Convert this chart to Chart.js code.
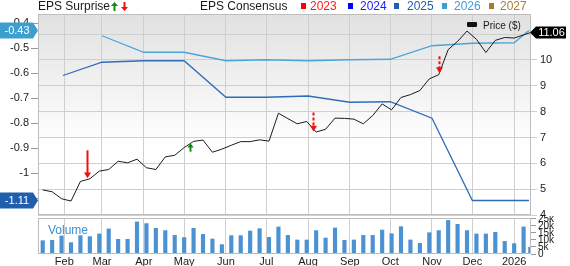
<!DOCTYPE html>
<html><head><meta charset="utf-8">
<script src="https://cdn.jsdelivr.net/npm/chart.js@4.4.1/dist/chart.umd.min.js"></script>
<style>
html,body{margin:0;padding:0;background:#fff;}
body{width:570px;height:266px;position:relative;overflow:hidden;font-family:"Liberation Sans",Arial,sans-serif;}
canvas{position:absolute;left:0;}
#c1{top:0;}
#c2{top:216px;}
.t{position:absolute;font-size:12px;line-height:12px;white-space:nowrap;}
.sq{position:absolute;width:5px;height:6px;top:3px;}
</style></head><body>
<canvas id="c1" width="570" height="216"></canvas>
<canvas id="c2" width="570" height="50"></canvas>

<div class="t" style="left:38px;top:0px;color:#1a1a1a">EPS Surprise</div>
<svg style="position:absolute;left:111px;top:2px" width="18" height="10">
  <polygon points="3.5,0 7,4 4.5,4 4.5,9 2.5,9 2.5,4 0,4" fill="#138a13"/>
  <polygon points="13.5,9 17,5 14.5,5 14.5,0 12.5,0 12.5,5 10,5" fill="#ee1111"/>
</svg>
<div class="t" style="left:200px;top:0px;color:#1a1a1a">EPS Consensus</div>
<div class="sq" style="left:301px;background:#ff0000"></div>
<div class="t" style="left:310px;top:0px;color:#ff1a1a">2023</div>
<div class="sq" style="left:348px;background:#0000ff"></div>
<div class="t" style="left:360px;top:0px;color:#1a1aff">2024</div>
<div class="sq" style="left:394px;background:#1f5fae"></div>
<div class="t" style="left:407px;top:0px;color:#1f5fae">2025</div>
<div class="sq" style="left:442px;background:#3c9fd0"></div>
<div class="t" style="left:454px;top:0px;color:#3c9fd0">2026</div>
<div class="sq" style="left:489px;background:#aa7a2e"></div>
<div class="t" style="left:500px;top:0px;color:#aa7a2e">2027</div>

<div style="position:absolute;left:467px;top:22px;width:10px;height:5px;background:#111;border-radius:1px"></div>
<div class="t" style="left:483px;top:20px;font-size:10px;line-height:11px;color:#1a1a1a">Price ($)</div>
<div class="t" style="left:48px;top:224px;color:#3d8fd1">Volume</div>

<script>
// ---------------- DATA ----------------
// x positions are day numbers counted from 2025-01-01 (day 0)
const xMin = 11.5, xMax = 377.5;
const monthTickDays   = [31, 59, 90, 120, 151, 181, 212, 243, 273, 304, 334, 365];
const monthTickLabels = ['Feb','Mar','Apr','May','Jun','Jul','Aug','Sep','Oct','Nov','Dec','2026'];

// weekly observation days
const weekDays = [15,22,29,36,43,50,57,64,71,78,85,92,99,106,113,120,127,134,141,148,
  155,162,169,176,183,190,197,204,211,218,225,232,239,246,253,260,267,274,281,288,
  295,302,309,316,323,330,337,344,351,358,365,372,377];

// share price ($)
const price = [4.97,4.90,4.63,4.54,5.30,5.40,5.70,5.76,6.08,6.02,
  6.16,5.83,5.76,6.25,6.31,6.61,6.85,6.90,6.43,6.55,
  6.70,6.84,6.84,6.91,6.86,7.94,7.73,7.53,7.62,7.21,
  7.32,7.75,7.74,7.71,7.53,7.85,8.30,8.07,8.55,8.66,
  8.82,9.27,9.43,10.40,10.72,11.12,10.80,10.29,10.76,10.87,
  10.85,10.97,11.06];

// weekly volume (thousands)
const volume = [9.5,9.8,12.9,8.1,13.1,12.4,14.3,17.9,10.5,10.5,
  22.9,21.7,18.3,16.7,13.3,11.7,18.3,14.0,10.7,6.7,
  13.1,13.1,16.4,18.1,11.9,19.3,13.3,10.0,10.0,16.7,
  11.4,18.6,9.8,10.0,13.3,13.3,17.1,14.5,19.5,10.0,
  7.6,15.2,16.7,24.0,21.2,16.7,14.3,14.3,15.5,9.0,
  7.4,19.3,4.8];

// EPS consensus estimates
const eps2025Days = [30,59,90,120,151,181,212,243,273,304,334,376];
const eps2025     = [-0.61,-0.557,-0.551,-0.551,-0.697,-0.697,-0.692,-0.717,-0.715,-0.781,-1.11,-1.11];
const eps2026Days = [59,90,120,151,181,212,243,273,304,334,365,376];
const eps2026     = [-0.451,-0.517,-0.517,-0.551,-0.547,-0.551,-0.547,-0.545,-0.491,-0.481,-0.479,-0.43];

// EPS surprises: day, price level at arrow tip, kind
const surpriseDays  = [48, 124, 216, 309];
const surpriseTip   = [5.42, 6.78, 7.23, 9.49];
const surpriseKind  = ['miss', 'beat', 'missEst', 'missEst'];

// axis ticks
const epsTicks   = [-0.4,-0.5,-0.6,-0.7,-0.8,-0.9,-1.0,-1.1];
const priceTicks = [4,5,6,7,8,9,10,11];
const volTicks   = [0,5,10,15,20,25];

// ---------------- STYLE ----------------
const arrowLen = [28, 8.5, 19, 17];
const FONT = '"Liberation Sans", Arial, sans-serif';
Chart.defaults.font.family = FONT;
Chart.defaults.color = '#1a1a1a';
const GRID = '#cfcfcf';
const TICKC = '#9a9a9a';
const toXY = (xs, ys) => xs.map((x, i) => ({x: x, y: ys[i]}));
const setTicks = arr => s => { s.ticks = arr.map(v => ({value: v})); };
const fitW = w => s => { s.width = w; s.paddingTop = 0; s.paddingBottom = 0; };
const fitH = h => s => { s.height = h; s.paddingLeft = 0; s.paddingRight = 0; };

const bgPlugin = {
  id: 'bg',
  beforeDraw(chart, args, opts) {
    const {ctx, chartArea: a} = chart;
    ctx.save();
    if (opts.gradient) {
      const g = ctx.createLinearGradient(0, a.top, 0, a.bottom);
      g.addColorStop(0, '#e1e1e1');
      g.addColorStop(0.65, '#ffffff');
      ctx.fillStyle = g;
    } else {
      ctx.fillStyle = opts.color || '#fff';
    }
    ctx.fillRect(a.left, a.top, a.right - a.left, a.bottom - a.top);
    ctx.restore();
  },
  afterDraw(chart, args, opts) {
    const {ctx, chartArea: a} = chart;
    ctx.save();
    ctx.strokeStyle = '#bdbdbd';
    ctx.lineWidth = 1;
    ctx.strokeRect(a.left + 0.5, a.top + 0.5, a.right - a.left - 1, a.bottom - a.top - 1);
    ctx.restore();
  }
};

const arrowPlugin = {
  id: 'arrows',
  afterDatasetsDraw(chart) {
    const {ctx, scales} = chart;
    surpriseDays.forEach((d, i) => {
      const px = Math.round(scales.x.getPixelForValue(d)) + 0.5;
      const py = scales.price.getPixelForValue(surpriseTip[i]);
      const kind = surpriseKind[i];
      const len = arrowLen[i];
      ctx.save();
      if (kind === 'beat') {
        ctx.fillStyle = ctx.strokeStyle = '#138a13';
        ctx.lineWidth = 2;
        ctx.beginPath(); ctx.moveTo(px, py + 3.5); ctx.lineTo(px, py + len); ctx.stroke();
        ctx.beginPath(); ctx.moveTo(px, py); ctx.lineTo(px - 3.2, py + 4.2); ctx.lineTo(px + 3.2, py + 4.2); ctx.closePath(); ctx.fill();
      } else {
        ctx.fillStyle = ctx.strokeStyle = '#ee1111';
        ctx.lineWidth = 2;
        if (kind === 'missEst') ctx.setLineDash([3, 2]);
        ctx.beginPath(); ctx.moveTo(px, py - len); ctx.lineTo(px, py - 5); ctx.stroke();
        ctx.setLineDash([]);
        ctx.beginPath(); ctx.moveTo(px, py); ctx.lineTo(px - 3.5, py - 5.8); ctx.lineTo(px + 3.5, py - 5.8); ctx.closePath(); ctx.fill();
      }
      ctx.restore();
    });
  }
};

function drawBadge(ctx, side, tipX, yc, h, color, text) {
  ctx.save();
  ctx.fillStyle = color;
  ctx.beginPath();
  if (side === 'left') {
    ctx.moveTo(0, yc - h / 2);
    ctx.lineTo(tipX - 5, yc - h / 2);
    ctx.lineTo(tipX, yc);
    ctx.lineTo(tipX - 5, yc + h / 2);
    ctx.lineTo(0, yc + h / 2);
  } else {
    ctx.moveTo(tipX, yc);
    ctx.lineTo(tipX + 6, yc - h / 2);
    ctx.lineTo(tipX + 36, yc - h / 2);
    ctx.lineTo(tipX + 36, yc + h / 2);
    ctx.lineTo(tipX + 6, yc + h / 2);
  }
  ctx.closePath();
  ctx.fill();
  ctx.fillStyle = '#ffffff';
  ctx.font = '11px ' + FONT;
  ctx.textBaseline = 'middle';
  ctx.textAlign = 'center';
  const cx = side === 'left' ? (tipX - 5) / 2 + 0.5 : tipX + 21.5;
  ctx.fillText(text, cx, yc + 0.5);
  ctx.restore();
}

const badgePlugin = {
  id: 'badges',
  afterDraw(chart) {
    const {ctx, scales, chartArea: a} = chart;
    const v26 = eps2026[eps2026.length - 1];
    const v25 = eps2025[eps2025.length - 1];
    const vp = price[price.length - 1];
    drawBadge(ctx, 'left', a.left, scales.eps.getPixelForValue(v26), 16, '#3c9fd0', v26.toFixed(2));
    drawBadge(ctx, 'left', a.left, scales.eps.getPixelForValue(v25), 16, '#1f5fae', v25.toFixed(2));
    drawBadge(ctx, 'right', a.right - 1, scales.price.getPixelForValue(vp), 12, '#000000', vp.toFixed(2));
  }
};

// ---------------- PRICE / EPS PANEL ----------------
new Chart(document.getElementById('c1'), {
  type: 'line',
  data: {
    datasets: [
      {label: 'Price', data: toXY(weekDays, price), yAxisID: 'price', borderColor: '#1c1c1c', borderWidth: 1, pointRadius: 0, tension: 0},
      {label: '2026', data: toXY(eps2026Days, eps2026), yAxisID: 'eps', borderColor: '#4aa6d6', borderWidth: 1.3, pointRadius: 0, tension: 0},
      {label: '2025', data: toXY(eps2025Days, eps2025), yAxisID: 'eps', borderColor: '#2f6cb8', borderWidth: 1.3, pointRadius: 0, tension: 0}
    ]
  },
  options: {
    responsive: false, animation: false, devicePixelRatio: 1,
    layout: {padding: {top: 14, bottom: 1, left: 0, right: 0}},
    plugins: {legend: {display: false}, tooltip: {enabled: false}, bg: {gradient: true}},
    scales: {
      x: {
        type: 'linear', min: xMin, max: xMax, offset: false,
        afterBuildTicks: setTicks(monthTickDays),
        ticks: {display: false},
        grid: {color: GRID, drawTicks: false, offset: false},
        border: {display: false},
        afterFit: fitH(0)
      },
      eps: {
        position: 'left', min: -1.168, max: -0.364,
        afterBuildTicks: setTicks(epsTicks),
        ticks: {callback: v => String(+v.toFixed(1)), font: {size: 11}, padding: 2, color: '#1a1a1a', autoSkip: false},
        grid: {drawOnChartArea: false, tickLength: 7, color: TICKC},
        border: {display: false},
        afterFit: fitW(38)
      },
      price: {
        position: 'right', min: 4, max: 11.78,
        afterBuildTicks: setTicks(priceTicks),
        ticks: {callback: v => String(v), font: {size: 11}, padding: 3, color: '#1a1a1a', autoSkip: false},
        grid: {color: GRID, tickLength: 6},
        border: {display: false},
        afterFit: fitW(39)
      }
    }
  },
  plugins: [bgPlugin, arrowPlugin, badgePlugin]
});

// ---------------- VOLUME PANEL ----------------
new Chart(document.getElementById('c2'), {
  type: 'bar',
  data: {
    datasets: [
      {label: 'Volume', data: toXY(weekDays, volume), yAxisID: 'vol', backgroundColor: '#4b92d3', barThickness: 3.5}
    ]
  },
  options: {
    responsive: false, animation: false, devicePixelRatio: 1,
    layout: {padding: {top: 2, bottom: 0, left: 38, right: 0}},
    plugins: {legend: {display: false}, tooltip: {enabled: false}, bg: {color: '#ffffff'}},
    scales: {
      x: {
        type: 'linear', min: xMin, max: xMax, offset: false,
        afterBuildTicks: setTicks(monthTickDays),
        ticks: {callback: v => monthTickLabels[monthTickDays.indexOf(v)], autoSkip: false, maxRotation: 0, font: {size: 11}, padding: 1, color: '#1a1a1a'},
        grid: {color: GRID, drawTicks: false, offset: false},
        border: {display: false},
        afterFit: fitH(12)
      },
      vol: {
        position: 'right', min: 0, max: 25.7,
        afterBuildTicks: setTicks(volTicks),
        ticks: {callback: v => v === 0 ? '0' : v + 'k', font: {size: 10}, padding: 2, color: '#1a1a1a', autoSkip: false},
        grid: {drawOnChartArea: false, tickLength: 5, color: TICKC},
        border: {display: false},
        afterFit: fitW(39)
      }
    }
  },
  plugins: [bgPlugin]
});
</script>
</body></html>
